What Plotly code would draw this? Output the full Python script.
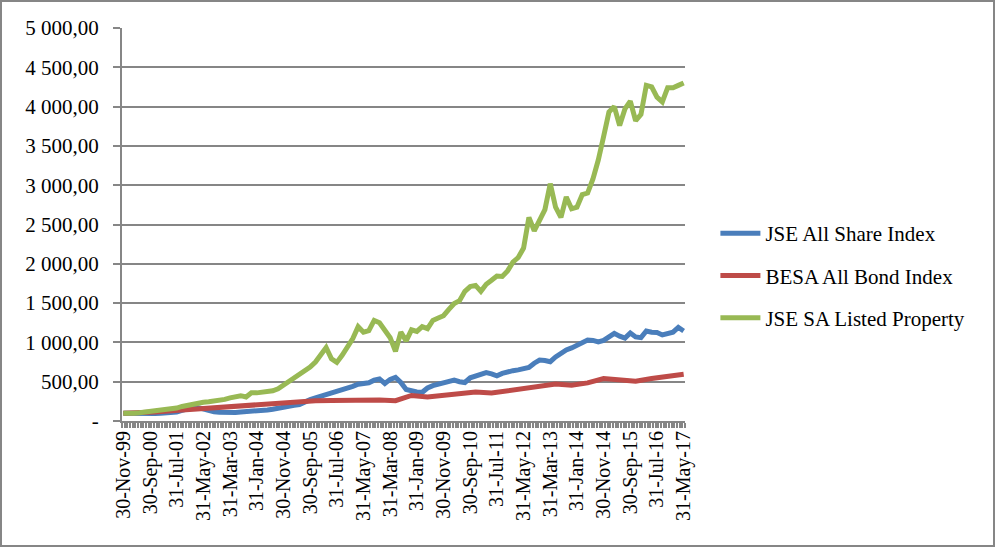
import pandas as pd
import plotly.graph_objs as go

# month-end categories, Nov 1999 .. May 2017
months = [d.strftime("%d-%b-%y") for d in pd.date_range("1999-11-30", "2017-05-31", freq="ME")]

# labels shown on every 10th month
x_labels = ["30-Nov-99", "30-Sep-00", "31-Jul-01", "31-May-02", "31-Mar-03", "31-Jan-04",
            "30-Nov-04", "30-Sep-05", "31-Jul-06", "31-May-07", "31-Mar-08", "31-Jan-09",
            "30-Nov-09", "30-Sep-10", "31-Jul-11", "31-May-12", "31-Mar-13", "31-Jan-14",
            "30-Nov-14", "30-Sep-15", "31-Jul-16", "31-May-17"]

y_ticks = [0, 500, 1000, 1500, 2000, 2500, 3000, 3500, 4000, 4500, 5000]
y_labels = ["-", "500,00", "1 000,00", "1 500,00", "2 000,00", "2 500,00",
            "3 000,00", "3 500,00", "4 000,00", "4 500,00", "5 000,00"]

# JSE All Share Index, every 2nd month
jse_all_share = [100, 102, 98, 97, 100, 98, 97, 98, 100, 105, 115, 135, 155, 172, 170, 150,
                 128, 118, 112, 108, 105, 108, 115, 118, 118, 125, 132, 140, 150, 165, 182,
                 190, 200, 210, 245, 272, 295, 315, 340, 358, 365, 385, 405, 440, 468, 482,
                 487, 520, 535, 478, 530, 556, 490, 400, 380, 370, 365, 420, 450, 470, 490,
                 505, 520, 500, 490, 550, 575, 595, 615, 600, 575, 605, 628, 640, 650, 660,
                 680, 735, 776, 770, 755, 815, 860, 905, 930, 960, 1000, 1030, 1025, 1005,
                 1025, 1080, 1115, 1080, 1055, 1120, 1070, 1060, 1145, 1130, 1125, 1095,
                 1120, 1130, 1190, 1145]

# BESA All Bond Index, every 6th month
besa_all_bond = [100, 103, 115, 130, 145, 155, 172, 190, 202, 212, 225, 240, 258, 262, 267,
                 265, 267, 258, 325, 305, 330, 345, 370, 355, 385, 425, 450, 470, 455, 485,
                 540, 525, 505, 540, 570, 595]

# JSE SA Listed Property, every 2nd month
jse_property = [100, 95, 100, 106, 113, 122, 130, 138, 143, 150, 165, 185, 200, 220, 232,
                238, 245, 252, 262, 275, 295, 308, 322, 305, 358, 358, 362, 372, 385, 410,
                455, 505, 550, 590, 640, 685, 750, 845, 935, 790, 745, 835, 950, 1050, 1200,
                1130, 1150, 1280, 1250, 1145, 1060, 885, 1130, 1020, 1160, 1140, 1200, 1175,
                1280, 1310, 1340, 1420, 1495, 1530, 1650, 1710, 1725, 1650, 1740, 1790, 1845,
                1840, 1910, 2020, 2080, 2200, 2590, 2420, 2570, 2690, 3020, 2720, 2590, 2850,
                2700, 2720, 2880, 2900, 3080, 3320, 3620, 3930, 4000, 3760, 3970, 4070, 3820,
                3900, 4270, 4250, 4120, 4060, 4240, 4240, 4270, 4300]

font_name = "Liberation Serif"
grey = "#868686"

fig = go.Figure()

fig.add_trace(go.Scatter(x=months[::2], y=jse_all_share, mode="lines", name="JSE All Share Index",
                         legendgroup="a", line=dict(color="#4a7ebb", width=5)))
fig.add_trace(go.Scatter(x=months[::6], y=besa_all_bond, mode="lines", name="BESA All Bond Index",
                         legendgroup="b", line=dict(color="#be4b48", width=5)))
fig.add_trace(go.Scatter(x=months[::2], y=jse_property, mode="lines", name="JSE SA Listed Property",
                         legendgroup="c", line=dict(color="#98b954", width=5)))

# label every 10th month, tick on every month
tick_text = ["" for _ in months]
for k, lab in enumerate(x_labels):
    tick_text[k * 10] = lab

left, right, top, bottom = 122, 311, 28, 127
W, H = 996, 548
pw, ph = W - left - right, H - top - bottom

fig.update_layout(
    width=W, height=H,
    margin=dict(l=left, r=right, t=top, b=bottom),
    paper_bgcolor="white",
    plot_bgcolor="white",
    font=dict(family=font_name, color="black", size=20),
    showlegend=True,
    legend=dict(x=1.054, y=0.37, xanchor="left", yanchor="middle",
                traceorder="grouped", tracegroupgap=12,
                font=dict(family=font_name, size=21), itemwidth=40),
    shapes=[dict(type="rect", xref="paper", yref="paper",
                 x0=(1 - left) / pw, x1=(W - 2 - left) / pw,
                 y0=-(H - 2 - top - ph) / ph, y1=(ph + top - 1) / ph,
                 line=dict(color=grey, width=2), layer="above")],
)

fig.update_xaxes(
    type="category", categoryorder="array", categoryarray=months,
    tickmode="array", tickvals=months, ticktext=tick_text,
    tickson="boundaries", ticks="outside", ticklen=5, tickwidth=1.5, tickcolor=grey,
    tickangle=-90, tickfont=dict(family=font_name, size=20),
    showgrid=False, showline=True, linecolor=grey, linewidth=2,
    range=[-0.5, len(months) - 0.5], zeroline=False,
)
fig.update_yaxes(
    range=[0, 5000], tickmode="array", tickvals=y_ticks, ticktext=y_labels,
    ticks="outside", ticklen=7, tickwidth=2, tickcolor=grey, ticklabelstandoff=10,
    tickfont=dict(family=font_name, size=21),
    showgrid=True, gridcolor=grey, gridwidth=2,
    showline=True, linecolor=grey, linewidth=2, zeroline=False,
)

# drop the browser's default body margin so the figure sits at the page corner
fig.write_html("out.html", config={"displayModeBar": False},
               post_script="document.body.style.margin='0';")
